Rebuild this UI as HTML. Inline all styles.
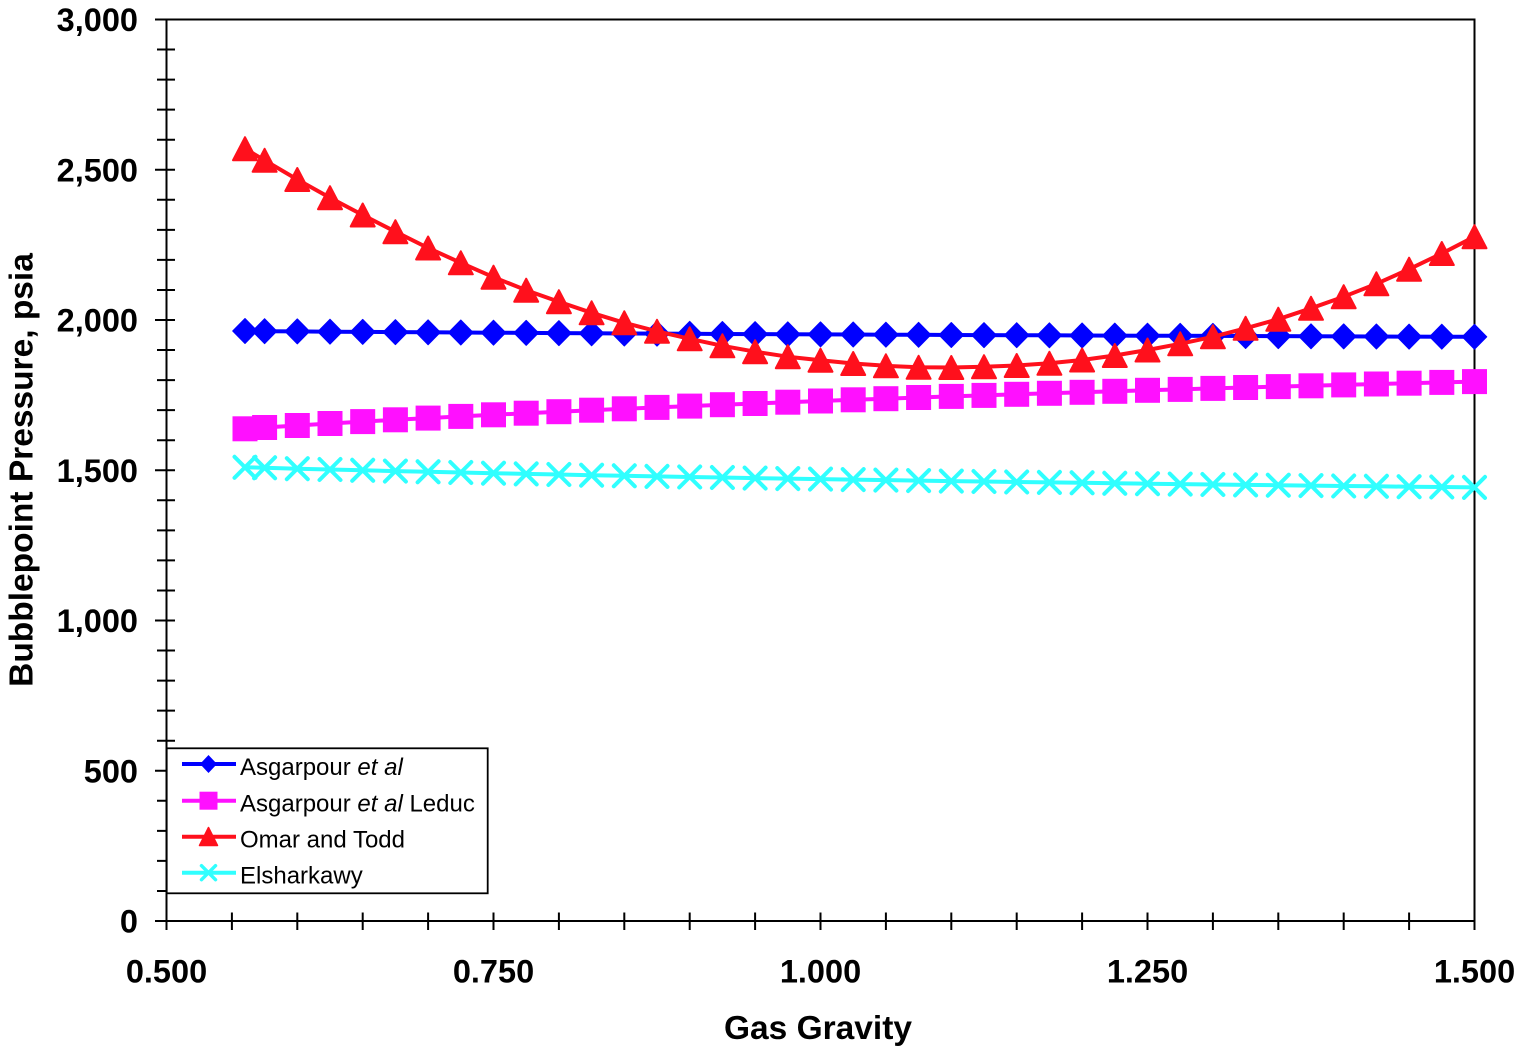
<!DOCTYPE html>
<html>
<head>
<meta charset="utf-8">
<style>
  html, body { margin:0; padding:0; background:#fff; }
  svg { display:block; }
  text { font-family: "Liberation Sans", Arial, sans-serif; fill:#000; }
  .tick { font-size:32.5px; font-weight:bold; }
  .title { font-size:33.5px; font-weight:bold; }
  .leg { font-size:24px; }
</style>
</head>
<body>
<svg width="1517" height="1047" viewBox="0 0 1517 1047" xmlns="http://www.w3.org/2000/svg">
  <defs>
    <marker id="mDia" viewBox="-15 -15 30 30" markerWidth="30" markerHeight="30" refX="0" refY="0" markerUnits="userSpaceOnUse" overflow="visible">
      <polygon points="0,-12.5 12.3,0 0,12.5 -12.3,0" fill="#0000ff" stroke="#0000ff" stroke-width="1" stroke-linejoin="round"/>
    </marker>
    <marker id="mSq" viewBox="-15 -15 30 30" markerWidth="30" markerHeight="30" refX="0" refY="0" markerUnits="userSpaceOnUse" overflow="visible">
      <rect x="-12.5" y="-12.5" width="25" height="25" fill="#ff10ff"/>
    </marker>
    <marker id="mTri" viewBox="-15 -15 30 30" markerWidth="30" markerHeight="30" refX="0" refY="0" markerUnits="userSpaceOnUse" overflow="visible">
      <polygon points="0,-11.5 12,11.5 -12,11.5" fill="#ff101c" stroke="#ff101c" stroke-width="2" stroke-linejoin="round"/>
    </marker>
    <marker id="mX" viewBox="-15 -15 30 30" markerWidth="30" markerHeight="30" refX="0" refY="0" markerUnits="userSpaceOnUse" overflow="visible">
      <path d="M-10.5,-10.5 L10.5,10.5 M-10.5,10.5 L10.5,-10.5" stroke="#30ffff" stroke-width="4" stroke-linecap="round" fill="none"/>
    </marker>
  </defs>

  <!-- plot frame -->
  <rect x="166.5" y="19.5" width="1308" height="901.5" fill="none" stroke="#000" stroke-width="2"/>

  <!-- Y ticks -->
  <g stroke="#000" stroke-width="2">
    <line x1="155" y1="921" x2="175" y2="921"/>
    <line x1="157" y1="890.95" x2="175" y2="890.95"/>
    <line x1="157" y1="860.9" x2="175" y2="860.9"/>
    <line x1="157" y1="830.85" x2="175" y2="830.85"/>
    <line x1="157" y1="800.8" x2="175" y2="800.8"/>
    <line x1="155" y1="770.75" x2="175" y2="770.75"/>
    <line x1="157" y1="740.7" x2="175" y2="740.7"/>
    <line x1="157" y1="710.65" x2="175" y2="710.65"/>
    <line x1="157" y1="680.6" x2="175" y2="680.6"/>
    <line x1="157" y1="650.55" x2="175" y2="650.55"/>
    <line x1="155" y1="620.5" x2="175" y2="620.5"/>
    <line x1="157" y1="590.45" x2="175" y2="590.45"/>
    <line x1="157" y1="560.4" x2="175" y2="560.4"/>
    <line x1="157" y1="530.35" x2="175" y2="530.35"/>
    <line x1="157" y1="500.3" x2="175" y2="500.3"/>
    <line x1="155" y1="470.25" x2="175" y2="470.25"/>
    <line x1="157" y1="440.2" x2="175" y2="440.2"/>
    <line x1="157" y1="410.15" x2="175" y2="410.15"/>
    <line x1="157" y1="380.1" x2="175" y2="380.1"/>
    <line x1="157" y1="350.05" x2="175" y2="350.05"/>
    <line x1="155" y1="320" x2="175" y2="320"/>
    <line x1="157" y1="289.95" x2="175" y2="289.95"/>
    <line x1="157" y1="259.9" x2="175" y2="259.9"/>
    <line x1="157" y1="229.85" x2="175" y2="229.85"/>
    <line x1="157" y1="199.8" x2="175" y2="199.8"/>
    <line x1="155" y1="169.75" x2="175" y2="169.75"/>
    <line x1="157" y1="139.7" x2="175" y2="139.7"/>
    <line x1="157" y1="109.65" x2="175" y2="109.65"/>
    <line x1="157" y1="79.6" x2="175" y2="79.6"/>
    <line x1="157" y1="49.55" x2="175" y2="49.55"/>
    <line x1="155" y1="19.5" x2="166.5" y2="19.5"/>
  </g>

  <!-- X ticks -->
  <g stroke="#000" stroke-width="2">
    <line x1="166.5" y1="912.5" x2="166.5" y2="930"/>
    <line x1="231.9" y1="912.5" x2="231.9" y2="930"/>
    <line x1="297.3" y1="912.5" x2="297.3" y2="930"/>
    <line x1="362.7" y1="912.5" x2="362.7" y2="930"/>
    <line x1="428.1" y1="912.5" x2="428.1" y2="930"/>
    <line x1="493.5" y1="912.5" x2="493.5" y2="930"/>
    <line x1="558.9" y1="912.5" x2="558.9" y2="930"/>
    <line x1="624.3" y1="912.5" x2="624.3" y2="930"/>
    <line x1="689.7" y1="912.5" x2="689.7" y2="930"/>
    <line x1="755.1" y1="912.5" x2="755.1" y2="930"/>
    <line x1="820.5" y1="912.5" x2="820.5" y2="930"/>
    <line x1="885.9" y1="912.5" x2="885.9" y2="930"/>
    <line x1="951.3" y1="912.5" x2="951.3" y2="930"/>
    <line x1="1016.7" y1="912.5" x2="1016.7" y2="930"/>
    <line x1="1082.1" y1="912.5" x2="1082.1" y2="930"/>
    <line x1="1147.5" y1="912.5" x2="1147.5" y2="930"/>
    <line x1="1212.9" y1="912.5" x2="1212.9" y2="930"/>
    <line x1="1278.3" y1="912.5" x2="1278.3" y2="930"/>
    <line x1="1343.7" y1="912.5" x2="1343.7" y2="930"/>
    <line x1="1409.1" y1="912.5" x2="1409.1" y2="930"/>
    <line x1="1474.5" y1="912.5" x2="1474.5" y2="930"/>
  </g>

  <!-- Y tick labels -->
  <g class="tick" text-anchor="end">
    <text class="tick" x="138" y="932.6">0</text>
    <text class="tick" x="138" y="782.4">500</text>
    <text class="tick" x="138" y="632.1">1,000</text>
    <text class="tick" x="138" y="481.9">1,500</text>
    <text class="tick" x="138" y="331.6">2,000</text>
    <text class="tick" x="138" y="181.4">2,500</text>
    <text class="tick" x="138" y="31.1">3,000</text>
  </g>

  <!-- X tick labels -->
  <g text-anchor="middle">
    <text class="tick" x="166.5" y="982.7">0.500</text>
    <text class="tick" x="493.5" y="982.7">0.750</text>
    <text class="tick" x="820.5" y="982.7">1.000</text>
    <text class="tick" x="1147.5" y="982.7">1.250</text>
    <text class="tick" x="1474.5" y="982.7">1.500</text>
  </g>

  <!-- Axis titles -->
  <text class="title" x="818" y="1039" text-anchor="middle">Gas Gravity</text>
  <text class="title" transform="translate(32.7,470) rotate(-90)" text-anchor="middle">Bubblepoint Pressure, psia</text>

  <!-- Series: Asgarpour et al (blue) -->
  <polyline fill="none" stroke="#0000ff" stroke-width="4" stroke-linejoin="round"
    marker-start="url(#mDia)" marker-mid="url(#mDia)" marker-end="url(#mDia)"
    points="245.0,331.0 264.6,331.2 297.3,331.4 330.0,331.7 362.7,331.9 395.4,332.1 428.1,332.3 460.8,332.5 493.5,332.7 526.2,332.9 558.9,333.1 591.6,333.3 624.3,333.5 657.0,333.6 689.7,333.8 722.4,334.0 755.1,334.1 787.8,334.3 820.5,334.4 853.2,334.5 885.9,334.7 918.6,334.8 951.3,335.0 984.0,335.1 1016.7,335.2 1049.4,335.3 1082.1,335.5 1114.8,335.6 1147.5,335.7 1180.2,335.8 1212.9,335.9 1245.6,336.0 1278.3,336.1 1311.0,336.3 1343.7,336.4 1376.4,336.5 1409.1,336.6 1441.8,336.7 1474.5,336.8"/>

  <!-- Series: Asgarpour et al Leduc (magenta) -->
  <polyline fill="none" stroke="#ff10ff" stroke-width="4" stroke-linejoin="round"
    marker-start="url(#mSq)" marker-mid="url(#mSq)" marker-end="url(#mSq)"
    points="245.0,428.8 264.6,427.5 297.3,425.5 330.0,423.5 362.7,421.6 395.4,419.8 428.1,418.1 460.8,416.4 493.5,414.8 526.2,413.2 558.9,411.7 591.6,410.2 624.3,408.8 657.0,407.4 689.7,406.1 722.4,404.7 755.1,403.5 787.8,402.2 820.5,401.0 853.2,399.8 885.9,398.7 918.6,397.5 951.3,396.4 984.0,395.4 1016.7,394.3 1049.4,393.3 1082.1,392.3 1114.8,391.3 1147.5,390.3 1180.2,389.4 1212.9,388.4 1245.6,387.5 1278.3,386.6 1311.0,385.8 1343.7,384.9 1376.4,384.0 1409.1,383.2 1441.8,382.4 1474.5,381.6"/>

  <!-- Series: Omar and Todd (red) -->
  <polyline fill="none" stroke="#ff101c" stroke-width="4" stroke-linejoin="round"
    marker-start="url(#mTri)" marker-mid="url(#mTri)" marker-end="url(#mTri)"
    points="245.0,148.7 264.6,160.3 297.3,179.5 330.0,197.7 362.7,215.0 395.4,231.7 428.1,248.0 460.8,262.8 493.5,277.2 526.2,290.2 558.9,301.7 591.6,312.8 624.3,322.8 657.0,331.3 689.7,338.8 722.4,345.8 755.1,351.7 787.8,356.7 820.5,360.2 853.2,363.5 885.9,365.8 918.6,367.3 951.3,367.5 984.0,366.7 1016.7,365.5 1049.4,363.3 1082.1,360.0 1114.8,355.5 1147.5,350.0 1180.2,343.8 1212.9,336.8 1245.6,328.3 1278.3,319.2 1311.0,308.3 1343.7,296.7 1376.4,283.8 1409.1,269.2 1441.8,253.5 1474.5,236.7"/>

  <!-- Series: Elsharkawy (cyan) -->
  <polyline fill="none" stroke="#30ffff" stroke-width="4" stroke-linejoin="round"
    marker-start="url(#mX)" marker-mid="url(#mX)" marker-end="url(#mX)"
    points="245.0,467.3 264.6,467.8 297.3,468.7 330.0,469.5 362.7,470.3 395.4,471.1 428.1,471.8 460.8,472.5 493.5,473.2 526.2,473.9 558.9,474.5 591.6,475.2 624.3,475.8 657.0,476.4 689.7,477.0 722.4,477.5 755.1,478.1 787.8,478.6 820.5,479.1 853.2,479.6 885.9,480.1 918.6,480.6 951.3,481.1 984.0,481.5 1016.7,482.0 1049.4,482.4 1082.1,482.8 1114.8,483.3 1147.5,483.7 1180.2,484.1 1212.9,484.5 1245.6,484.9 1278.3,485.2 1311.0,485.6 1343.7,486.0 1376.4,486.3 1409.1,486.7 1441.8,487.0 1474.5,487.4"/>

  <!-- Legend -->
  <rect x="166.7" y="748.3" width="321" height="145" fill="#fff" stroke="#000" stroke-width="1.8"/>
  <line x1="182" y1="764" x2="236" y2="764" stroke="#0000ff" stroke-width="4"/>
  <polygon points="208.5,755 217,764 208.5,773 200,764" fill="#0000ff"/>
  <text class="leg" x="240" y="775">Asgarpour <tspan font-style="italic">et al</tspan></text>

  <line x1="182" y1="800.7" x2="236" y2="800.7" stroke="#ff10ff" stroke-width="4"/>
  <rect x="199.5" y="791.7" width="18" height="18" fill="#ff10ff"/>
  <text class="leg" x="240" y="811.7">Asgarpour <tspan font-style="italic">et al</tspan> Leduc</text>

  <line x1="182" y1="836.7" x2="236" y2="836.7" stroke="#ff101c" stroke-width="4"/>
  <polygon points="208.5,827.5 217.5,845.5 199.5,845.5" fill="#ff101c" stroke="#ff101c" stroke-width="1.5" stroke-linejoin="round"/>
  <text class="leg" x="240" y="847.7">Omar and Todd</text>

  <line x1="182" y1="872.7" x2="236" y2="872.7" stroke="#30ffff" stroke-width="4"/>
  <path d="M201.5,865.7 L215.5,879.7 M201.5,879.7 L215.5,865.7" stroke="#30ffff" stroke-width="3.5" stroke-linecap="round"/>
  <text class="leg" x="240" y="883.7">Elsharkawy</text>
</svg>
</body>
</html>
